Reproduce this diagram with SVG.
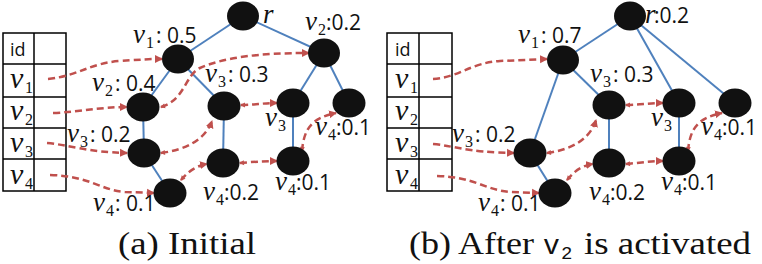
<svg xmlns="http://www.w3.org/2000/svg" width="762" height="264" viewBox="0 0 762 264">
<style>
.bg{fill:#fff}
.tbl{fill:none;stroke:#000;stroke-width:1.5}
.edge{stroke:#4F81BD;stroke-width:2;fill:none}
.lnk{stroke:#C0504D;stroke-width:2.5;fill:none;stroke-dasharray:7 4;marker-end:url(#ah)}
.lnk2{marker-start:url(#as)}
.node{fill:#111}
.v{font-family:"Liberation Serif",serif;font-style:italic;font-size:27px;fill:#111}
.vt{font-family:"Liberation Serif",serif;font-style:italic;font-size:30px;fill:#111}
.s{font-family:"Liberation Serif",serif;font-size:16px;fill:#111}
.n{font-family:"Open Sans","Liberation Sans",sans-serif;font-size:21px;fill:#111}
.id{font-family:"Open Sans","Liberation Sans",sans-serif;font-size:18px;fill:#111}
.cap{font-family:"Liberation Serif",serif;font-size:32px;fill:#111}
.tt{font-family:"Liberation Mono",monospace;fill:#111}
</style>
<defs>
<marker id="ah" markerUnits="userSpaceOnUse" markerWidth="9" markerHeight="9" refX="7" refY="4.5" orient="auto">
<path d="M0,0.5 L8,4.5 L0,8.5 z" fill="#C0504D"/>
</marker>
<marker id="as" markerUnits="userSpaceOnUse" markerWidth="6" markerHeight="6" refX="1" refY="3" orient="auto">
<path d="M5,0.5 L0,3 L5,5.5 z" fill="#C0504D"/>
</marker>
</defs>
<rect class="bg" x="0" y="0" width="762" height="264"/>

<!-- Panel (a) table -->
<g id="table-a">
<rect class="tbl" x="3" y="33" width="63" height="158"/>
<line class="tbl" x1="34" y1="33" x2="34" y2="191"/>
<line class="tbl" x1="3" y1="64" x2="66" y2="64"/>
<line class="tbl" x1="3" y1="97" x2="66" y2="97"/>
<line class="tbl" x1="3" y1="128" x2="66" y2="128"/>
<line class="tbl" x1="3" y1="159" x2="66" y2="159"/>
<text class="id" x="10" y="56">id</text>
<text><tspan class="vt" x="10" y="88">v</tspan><tspan class="s" x="25" y="93">1</tspan></text>
<text><tspan class="vt" x="10" y="120">v</tspan><tspan class="s" x="25" y="125">2</tspan></text>
<text><tspan class="vt" x="10" y="152">v</tspan><tspan class="s" x="25" y="157">3</tspan></text>
<text><tspan class="vt" x="10" y="184">v</tspan><tspan class="s" x="25" y="189">4</tspan></text>
</g>

<!-- Panel (b) table -->
<g id="table-b">
<rect class="tbl" x="387" y="33" width="65" height="158"/>
<line class="tbl" x1="419" y1="33" x2="419" y2="191"/>
<line class="tbl" x1="387" y1="64" x2="452" y2="64"/>
<line class="tbl" x1="387" y1="97" x2="452" y2="97"/>
<line class="tbl" x1="387" y1="128" x2="452" y2="128"/>
<line class="tbl" x1="387" y1="159" x2="452" y2="159"/>
<text class="id" x="395" y="56">id</text>
<text><tspan class="vt" x="395" y="88">v</tspan><tspan class="s" x="410" y="93">1</tspan></text>
<text><tspan class="vt" x="395" y="120">v</tspan><tspan class="s" x="410" y="125">2</tspan></text>
<text><tspan class="vt" x="395" y="152">v</tspan><tspan class="s" x="410" y="157">3</tspan></text>
<text><tspan class="vt" x="395" y="184">v</tspan><tspan class="s" x="410" y="189">4</tspan></text>
</g>

<!-- Connectors -->
<g id="connectors">
<!-- (a) tree edges -->
<line class="edge" x1="243" y1="16" x2="178" y2="59"/>
<line class="edge" x1="243" y1="16" x2="324" y2="53"/>
<line class="edge" x1="178" y1="59" x2="143" y2="107"/>
<line class="edge" x1="178" y1="59" x2="224" y2="106"/>
<line class="edge" x1="143" y1="107" x2="144" y2="153"/>
<line class="edge" x1="144" y1="153" x2="170" y2="193"/>
<line class="edge" x1="224" y1="106" x2="223" y2="163"/>
<line class="edge" x1="324" y1="53" x2="293" y2="103"/>
<line class="edge" x1="324" y1="53" x2="349" y2="103"/>
<line class="edge" x1="293" y1="103" x2="293" y2="161"/>
<!-- (b) tree edges -->
<line class="edge" x1="630" y1="16" x2="563" y2="60"/>
<line class="edge" x1="630" y1="16" x2="679" y2="103"/>
<line class="edge" x1="630" y1="16" x2="735" y2="103"/>
<line class="edge" x1="563" y1="60" x2="530" y2="153"/>
<line class="edge" x1="563" y1="60" x2="609" y2="105"/>
<line class="edge" x1="530" y1="153" x2="555" y2="193"/>
<line class="edge" x1="609" y1="105" x2="609" y2="163"/>
<line class="edge" x1="679" y1="103" x2="679" y2="161"/>

<!-- (a) dashed links -->
<path class="lnk" d="M48,79 C78,76 90,63 120,61 S150,59 162,59"/>
<path class="lnk" d="M53,113 C80,112 100,107 127,107"/>
<path class="lnk" d="M47,143 C70,145 85,152 127,153"/>
<path class="lnk" d="M50,175 C90,176 100,190 125,192 L154,193"/>
<path class="lnk lnk2" d="M161,107 C185,100 185,75 200,68 C225,57 260,53 309,53"/>
<path class="lnk lnk2" d="M161,153 C185,150 205,140 212,121"/>
<path class="lnk lnk2" d="M241,105 C255,105 262,103 277,103"/>
<path class="lnk lnk2" d="M181,180 C188,172 195,166 207,164"/>
<path class="lnk lnk2" d="M240,163 C252,162 264,161 277,161"/>
<path class="lnk lnk2" d="M302,151 C304,128 312,118 336,113"/>

<!-- (b) dashed links -->
<path class="lnk" d="M433,79 C460,77 470,63 500,61 L547,59"/>
<path class="lnk" d="M433,144 C455,146 465,152 514,153"/>
<path class="lnk" d="M437,176 C475,177 485,190 510,192 L539,193"/>
<path class="lnk lnk2" d="M547,153 C570,150 590,140 596,120"/>
<path class="lnk lnk2" d="M626,105 C640,105 648,103 663,103"/>
<path class="lnk lnk2" d="M567,180 C574,172 580,166 593,164"/>
<path class="lnk lnk2" d="M626,164 C638,163 650,161 663,161"/>
<path class="lnk lnk2" d="M688,151 C690,128 698,118 722,113"/>
</g>

<!-- Panel (a) nodes -->
<g id="a-r"><ellipse class="node" cx="243" cy="16" rx="16" ry="14.5"/><text class="v" x="263" y="23" font-size="23">r</text></g>
<g id="a-v1"><ellipse class="node" cx="178" cy="59" rx="16" ry="14.5"/><text><tspan class="v" x="133" y="43">v</tspan><tspan class="s" x="146" y="48">1</tspan><tspan class="n" x="156" y="43">: 0.5</tspan></text></g>
<g id="a-v2"><ellipse class="node" cx="143" cy="107" rx="16.5" ry="14.5"/><text><tspan class="v" x="92" y="91">v</tspan><tspan class="s" x="105" y="96">2</tspan><tspan class="n" x="115" y="91">: 0.4</tspan></text></g>
<g id="a-v3"><ellipse class="node" cx="144" cy="153" rx="16.5" ry="14.5"/><text><tspan class="v" x="67" y="142">v</tspan><tspan class="s" x="80" y="147">3</tspan><tspan class="n" x="90" y="142">: 0.2</tspan></text></g>
<g id="a-v4"><ellipse class="node" cx="170" cy="193" rx="16.5" ry="14.5"/><text><tspan class="v" x="93" y="211">v</tspan><tspan class="s" x="106" y="216">4</tspan><tspan class="n" x="115" y="211">: 0.1</tspan></text></g>
<g id="a-v3b"><ellipse class="node" cx="224" cy="106" rx="16.5" ry="14.5"/><text><tspan class="v" x="205" y="82">v</tspan><tspan class="s" x="218" y="87">3</tspan><tspan class="n" x="228" y="82">: 0.3</tspan></text></g>
<g id="a-v4b"><ellipse class="node" cx="223" cy="163" rx="16.5" ry="14.5"/><text><tspan class="v" x="203" y="200">v</tspan><tspan class="s" x="216" y="205">4</tspan><tspan class="n" x="224" y="200">:0.2</tspan></text></g>
<g id="a-v2b"><ellipse class="node" cx="324" cy="53" rx="16" ry="14.5"/><text><tspan class="v" x="305" y="30">v</tspan><tspan class="s" x="318" y="35">2</tspan><tspan class="n" x="326" y="30">:0.2</tspan></text></g>
<g id="a-v3c"><ellipse class="node" cx="293" cy="103" rx="16.5" ry="14.5"/><text><tspan class="v" x="265" y="126">v</tspan><tspan class="s" x="278" y="131">3</tspan></text></g>
<g id="a-v4c"><ellipse class="node" cx="349" cy="103" rx="16.5" ry="14.5"/><text><tspan class="v" x="315" y="135">v</tspan><tspan class="s" x="328" y="140">4</tspan><tspan class="n" x="336" y="135">:0.1</tspan></text></g>
<g id="a-v4d"><ellipse class="node" cx="293" cy="161" rx="16.5" ry="14.5"/><text><tspan class="v" x="275" y="190">v</tspan><tspan class="s" x="288" y="195">4</tspan><tspan class="n" x="296" y="190">:0.1</tspan></text></g>

<!-- Panel (b) nodes -->
<g id="b-r"><ellipse class="node" cx="630" cy="16" rx="16" ry="14.5"/><text><tspan class="v" x="645" y="23" font-size="23">r</tspan><tspan class="n" x="654" y="23" font-size="19">:0.2</tspan></text></g>
<g id="b-v1"><ellipse class="node" cx="563" cy="60" rx="16" ry="14.5"/><text><tspan class="v" x="518" y="43">v</tspan><tspan class="s" x="531" y="48">1</tspan><tspan class="n" x="541" y="43">: 0.7</tspan></text></g>
<g id="b-v3"><ellipse class="node" cx="530" cy="153" rx="16.5" ry="14.5"/><text><tspan class="v" x="452" y="142">v</tspan><tspan class="s" x="465" y="147">3</tspan><tspan class="n" x="475" y="142">: 0.2</tspan></text></g>
<g id="b-v4"><ellipse class="node" cx="555" cy="193" rx="16.5" ry="14.5"/><text><tspan class="v" x="478" y="211">v</tspan><tspan class="s" x="491" y="216">4</tspan><tspan class="n" x="500" y="211">: 0.1</tspan></text></g>
<g id="b-v3b"><ellipse class="node" cx="609" cy="105" rx="16.5" ry="14.5"/><text><tspan class="v" x="590" y="82">v</tspan><tspan class="s" x="603" y="87">3</tspan><tspan class="n" x="613" y="82">: 0.3</tspan></text></g>
<g id="b-v4b"><ellipse class="node" cx="609" cy="163" rx="16.5" ry="14.5"/><text><tspan class="v" x="589" y="200">v</tspan><tspan class="s" x="602" y="205">4</tspan><tspan class="n" x="610" y="200">:0.2</tspan></text></g>
<g id="b-v3c"><ellipse class="node" cx="679" cy="103" rx="16.5" ry="14.5"/><text><tspan class="v" x="651" y="126">v</tspan><tspan class="s" x="664" y="131">3</tspan></text></g>
<g id="b-v4c"><ellipse class="node" cx="735" cy="103" rx="16.5" ry="14.5"/><text><tspan class="v" x="701" y="135">v</tspan><tspan class="s" x="714" y="140">4</tspan><tspan class="n" x="722" y="135">:0.1</tspan></text></g>
<g id="b-v4d"><ellipse class="node" cx="679" cy="161" rx="16.5" ry="14.5"/><text><tspan class="v" x="661" y="190">v</tspan><tspan class="s" x="674" y="195">4</tspan><tspan class="n" x="682" y="190">:0.1</tspan></text></g>

<!-- Captions -->
<g id="captions">
<text class="cap" x="118" y="254" textLength="138" lengthAdjust="spacingAndGlyphs">(a) Initial</text>
<text class="cap" x="409" y="254" textLength="125" lengthAdjust="spacingAndGlyphs">(b) After</text>
<text class="tt" x="543" y="254" font-size="28">v</text>
<text class="tt" x="561" y="259" font-size="19">2</text>
<text class="cap" x="584" y="254" textLength="167" lengthAdjust="spacingAndGlyphs">is activated</text>
</g>
</svg>
